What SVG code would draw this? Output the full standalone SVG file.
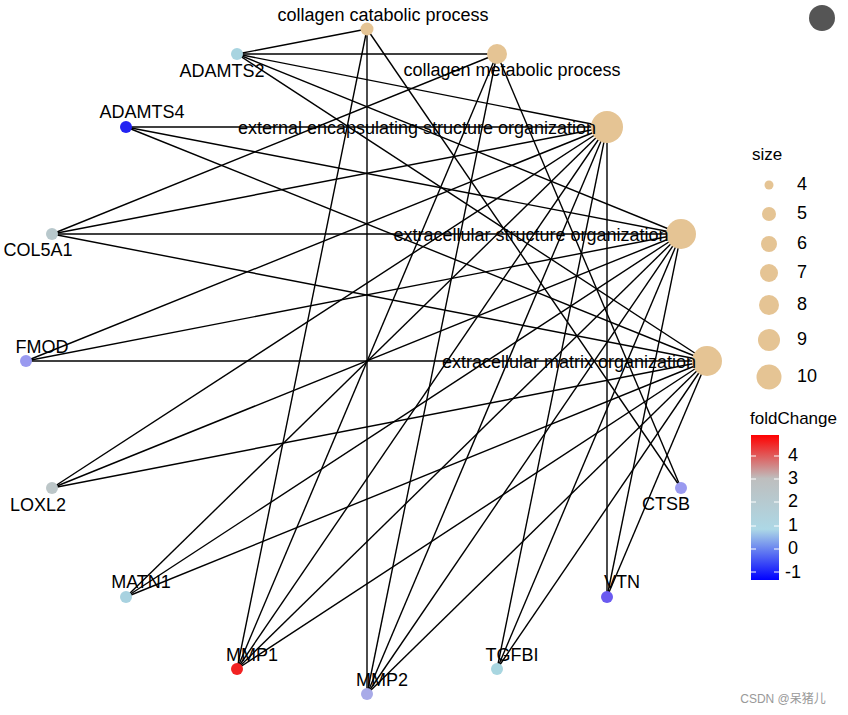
<svg xmlns="http://www.w3.org/2000/svg" width="848" height="715" viewBox="0 0 848 715">
<style>
text{font-family:"Liberation Sans",Arial,sans-serif;font-size:18px;fill:#000}
.e line{stroke:#000;stroke-width:1.4}
.cat{fill:#e5c494}
.lg{font-size:14px}
</style>
<defs>
<linearGradient id="fc" x1="0" y1="0" x2="0" y2="1">
<stop offset="0" stop-color="#ff0000"/>
<stop offset="0.3" stop-color="#bebebe"/>
<stop offset="0.65" stop-color="#add8e6"/>
<stop offset="1" stop-color="#0000ff"/>
</linearGradient>
</defs>
<rect width="848" height="715" fill="#fff"/>
<g class="e" id="edges">
<line x1="367" y1="29" x2="237" y2="54"/><line x1="367" y1="29" x2="237" y2="669"/><line x1="367" y1="29" x2="367" y2="694"/><line x1="367" y1="29" x2="681" y2="488"/>
<line x1="497" y1="54" x2="237" y2="54"/><line x1="497" y1="54" x2="52" y2="234"/><line x1="497" y1="54" x2="237" y2="669"/><line x1="497" y1="54" x2="367" y2="694"/><line x1="497" y1="54" x2="681" y2="488"/>
<line x1="607" y1="127" x2="237" y2="54"/><line x1="607" y1="127" x2="126" y2="127"/><line x1="607" y1="127" x2="52" y2="234"/><line x1="607" y1="127" x2="26" y2="361"/><line x1="607" y1="127" x2="52" y2="488"/><line x1="607" y1="127" x2="126" y2="597"/><line x1="607" y1="127" x2="237" y2="669"/><line x1="607" y1="127" x2="367" y2="694"/><line x1="607" y1="127" x2="497" y2="669"/><line x1="607" y1="127" x2="607" y2="597"/>
<line x1="681" y1="234" x2="237" y2="54"/><line x1="681" y1="234" x2="126" y2="127"/><line x1="681" y1="234" x2="52" y2="234"/><line x1="681" y1="234" x2="26" y2="361"/><line x1="681" y1="234" x2="52" y2="488"/><line x1="681" y1="234" x2="126" y2="597"/><line x1="681" y1="234" x2="237" y2="669"/><line x1="681" y1="234" x2="367" y2="694"/><line x1="681" y1="234" x2="497" y2="669"/><line x1="681" y1="234" x2="607" y2="597"/>
<line x1="707" y1="361" x2="237" y2="54"/><line x1="707" y1="361" x2="126" y2="127"/><line x1="707" y1="361" x2="52" y2="234"/><line x1="707" y1="361" x2="26" y2="361"/><line x1="707" y1="361" x2="52" y2="488"/><line x1="707" y1="361" x2="126" y2="597"/><line x1="707" y1="361" x2="237" y2="669"/><line x1="707" y1="361" x2="367" y2="694"/><line x1="707" y1="361" x2="497" y2="669"/><line x1="707" y1="361" x2="607" y2="597"/>
</g>
<g id="n-catabolic"><circle class="cat" cx="367" cy="29" r="6.5"/><text x="383" y="21" text-anchor="middle">collagen catabolic process</text></g>
<g id="n-metabolic"><circle class="cat" cx="497" cy="54" r="10"/><text x="512" y="76" text-anchor="middle">collagen metabolic process</text></g>
<g id="n-external"><circle class="cat" cx="607" cy="127" r="16"/><text x="417" y="134" text-anchor="middle">external encapsulating structure organization</text></g>
<g id="n-ecs"><circle class="cat" cx="681" cy="234" r="15"/><text x="531" y="241" text-anchor="middle">extracellular structure organization</text></g>
<g id="n-ecm"><circle class="cat" cx="707" cy="361" r="15"/><text x="569" y="368" text-anchor="middle">extracellular matrix organization</text></g>
<g id="g-ADAMTS2"><circle cx="237" cy="54" r="6" fill="#a8d4e0"/><text x="222" y="77" text-anchor="middle">ADAMTS2</text></g>
<g id="g-ADAMTS4"><circle cx="126" cy="127" r="6" fill="#2222f2"/><text x="142" y="118" text-anchor="middle">ADAMTS4</text></g>
<g id="g-COL5A1"><circle cx="52" cy="234" r="6" fill="#b8c8cc"/><text x="38" y="256" text-anchor="middle">COL5A1</text></g>
<g id="g-FMOD"><circle cx="26" cy="361" r="6" fill="#9a9af0"/><text x="42" y="353" text-anchor="middle">FMOD</text></g>
<g id="g-LOXL2"><circle cx="52" cy="488" r="6" fill="#bcc6c8"/><text x="38" y="511" text-anchor="middle">LOXL2</text></g>
<g id="g-MATN1"><circle cx="126" cy="597" r="6" fill="#a8d2e0"/><text x="141" y="588" text-anchor="middle">MATN1</text></g>
<g id="g-MMP1"><circle cx="237" cy="669" r="6" fill="#f22222"/><text x="252" y="661" text-anchor="middle">MMP1</text></g>
<g id="g-MMP2"><circle cx="367" cy="694" r="6" fill="#a8aae8"/><text x="382" y="686" text-anchor="middle">MMP2</text></g>
<g id="g-TGFBI"><circle cx="497" cy="669" r="6" fill="#a8d6e0"/><text x="512" y="661" text-anchor="middle">TGFBI</text></g>
<g id="g-VTN"><circle cx="607" cy="597" r="6" fill="#6a5af0"/><text x="622" y="588" text-anchor="middle">VTN</text></g>
<g id="g-CTSB"><circle cx="681" cy="488" r="6" fill="#9a9af0"/><text x="666" y="510" text-anchor="middle">CTSB</text></g>
<g id="legend">
<text x="752" y="160" style="font-size:17px">size</text>
<g class="cat"><circle cx="769" cy="185" r="4.5"/><circle cx="769" cy="214" r="7"/><circle cx="769" cy="244" r="8"/><circle cx="769" cy="273" r="9"/><circle cx="769" cy="305" r="10"/><circle cx="769" cy="340" r="11"/><circle cx="769" cy="377" r="12.5"/></g>
<g class="lg"><text x="797" y="190">4</text><text x="797" y="219">5</text><text x="797" y="249">6</text><text x="797" y="278">7</text><text x="797" y="310">8</text><text x="797" y="345">9</text><text x="797" y="382">10</text></g>
<text x="750" y="424" style="font-size:17px">foldChange</text>
<rect x="751" y="435" width="28" height="145" fill="url(#fc)"/>
<g stroke="#fff" stroke-width="1"><line x1="751" y1="456" x2="756" y2="456"/><line x1="774" y1="456" x2="779" y2="456"/><line x1="751" y1="479" x2="756" y2="479"/><line x1="774" y1="479" x2="779" y2="479"/><line x1="751" y1="502" x2="756" y2="502"/><line x1="774" y1="502" x2="779" y2="502"/><line x1="751" y1="526" x2="756" y2="526"/><line x1="774" y1="526" x2="779" y2="526"/><line x1="751" y1="549" x2="756" y2="549"/><line x1="774" y1="549" x2="779" y2="549"/><line x1="751" y1="572" x2="756" y2="572"/><line x1="774" y1="572" x2="779" y2="572"/></g>
<g class="lg"><text x="788" y="461">4</text><text x="788" y="484">3</text><text x="788" y="507">2</text><text x="788" y="531">1</text><text x="788" y="554">0</text><text x="785" y="578">-1</text></g>
</g>
<circle cx="822" cy="18" r="13" fill="#555"/>
<text x="783" y="703" style="font-size:12px;fill:#999;font-family:'Liberation Sans','Noto Sans CJK SC',sans-serif" text-anchor="middle">CSDN @呆猪儿</text>
</svg>
